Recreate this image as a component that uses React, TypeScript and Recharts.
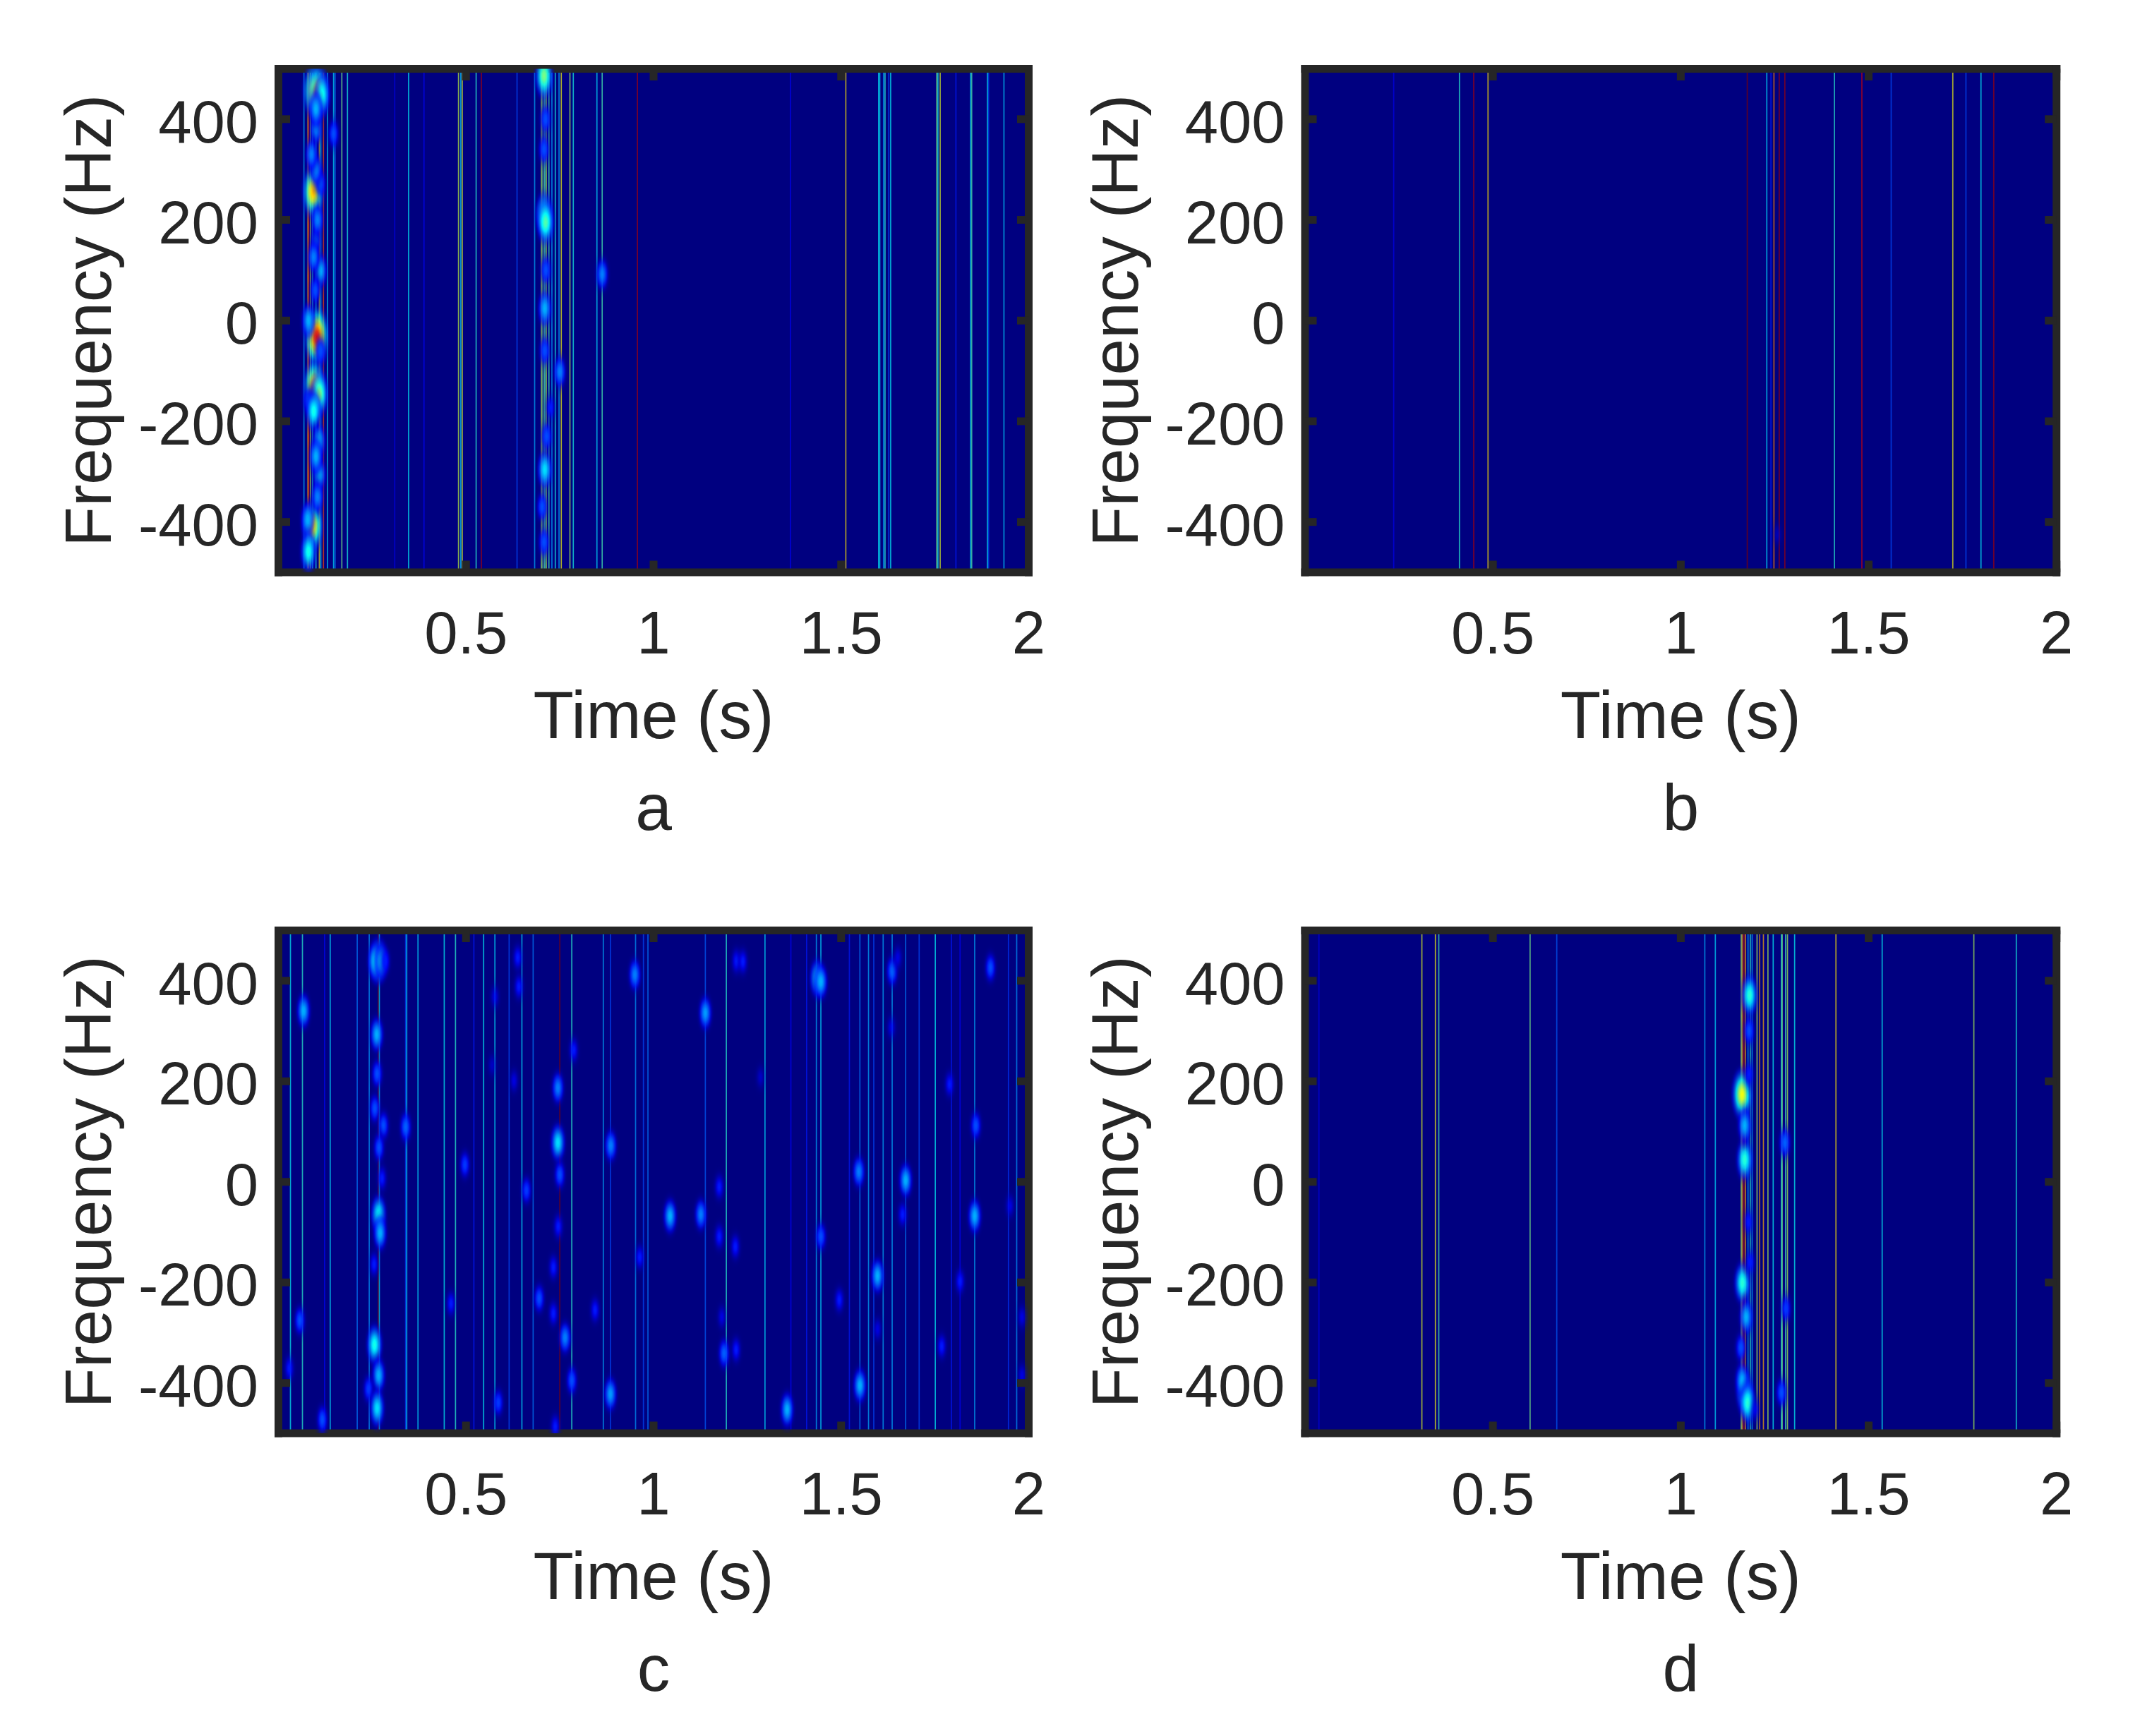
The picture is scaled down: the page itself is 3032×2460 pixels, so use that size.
import React from 'react';
import {
  ComposedChart, XAxis, YAxis, Scatter, ReferenceLine, CartesianGrid, Label,
} from 'recharts';

const timeTicks = [0.5, 1, 1.5, 2];
const freqTicks = [-400, -200, 0, 200, 400];

// [time (s), colour level 0..1]
const stripesA: [number, number][] = [
  [0.068, 0.3], [0.0785, 0.7], [0.081, 0.85], [0.0857, 0.55], [0.091, 0.42], [0.1, 0.4], [0.109, 0.65], [0.113, 0.35],
  [0.12, 0.8], [0.131, 0.35], [0.147, 0.35], [0.151, 0.25], [0.169, 0.5], [0.184, 0.4], [0.31, 0.1], [0.347, 0.38],
  [0.388, 0.13], [0.48, 0.57], [0.486, 0.33], [0.49, 0.6], [0.527, 0.42], [0.541, 0.95], [0.636, 0.2], [0.683, 0.3],
  [0.701, 0.55], [0.705, 0.5], [0.71, 0.45], [0.714, 0.55], [0.721, 0.45], [0.729, 0.3], [0.738, 0.4], [0.748, 0.3],
  [0.754, 0.62], [0.777, 0.55], [0.786, 0.4], [0.849, 0.35], [0.863, 0.45], [0.957, 0.95], [1.365, 0.12], [1.5125, 0.65],
  [1.6, 0.38], [1.603, 0.35], [1.613, 0.3], [1.617, 0.42], [1.627, 0.2], [1.632, 0.38], [1.755, 0.5], [1.758, 0.4],
  [1.764, 0.6], [1.806, 0.15], [1.845, 0.35], [1.848, 0.45], [1.89, 0.38], [1.893, 0.2], [1.934, 0.33],
];
const stripesB: [number, number][] = [
  [0.236, 0.11], [0.411, 0.42], [0.449, 0.95], [0.487, 0.65], [1.177, 1], [1.229, 0.35], [1.24, 0.15], [1.248, 0.75],
  [1.262, 0.96], [1.277, 0.96], [1.409, 0.42], [1.482, 0.92], [1.56, 0.2], [1.724, 0.62], [1.759, 0.2], [1.799, 0.38], [1.833, 0.96],
];
const stripesC: [number, number][] = [
  [0.032, 0.38], [0.064, 0.42], [0.123, 0.13], [0.138, 0.35], [0.21, 0.25], [0.242, 0.28], [0.266, 1], [0.269, 0.35],
  [0.339, 0.2], [0.342, 0.35], [0.372, 0.35], [0.442, 0.38], [0.472, 0.42], [0.521, 0.15], [0.547, 0.38], [0.577, 0.35],
  [0.615, 0.2], [0.649, 0.35], [0.679, 0.25], [0.75, 1], [0.782, 0.42], [0.866, 0.3], [0.885, 0.2], [0.952, 0.28],
  [0.973, 0.2], [0.985, 0.25], [1.138, 0.22], [1.194, 0.42], [1.297, 0.35], [1.366, 0.12], [1.408, 0.15], [1.434, 0.3],
  [1.446, 0.35], [1.522, 0.15], [1.55, 0.25], [1.573, 0.3], [1.587, 0.2], [1.612, 0.3], [1.636, 0.3], [1.672, 0.25],
  [1.708, 0.2], [1.751, 0.38], [1.794, 0.15], [1.817, 0.12], [1.856, 0.3], [1.946, 0.18], [1.968, 0.28],
];
const stripesD: [number, number][] = [
  [0.037, 0.1], [0.311, 0.6], [0.347, 0.62], [0.356, 0.45], [0.599, 0.5], [0.67, 0.22], [1.064, 0.3], [1.092, 0.35],
  [1.161, 0.55], [1.164, 0.72], [1.1685, 0.95], [1.172, 0.7], [1.179, 0.3], [1.185, 0.42], [1.19, 0.3], [1.203, 0.55],
  [1.21, 0.72], [1.22, 0.7], [1.232, 0.55], [1.246, 0.38], [1.268, 0.4], [1.27, 0.5], [1.279, 0.45], [1.284, 0.55],
  [1.303, 0.38], [1.413, 0.65], [1.536, 0.38], [1.78, 0.55], [1.893, 0.4],
];

// [time (s), frequency (Hz), colour level 0..1]
const blobsA: [number, number, number][] = [
  [0.094, 456, 0.68], [0.107, 452, 0.7], [0.116, 449, 0.4], [0.093, 256, 0.7], [0.708, 211, 0.46], [0.712, 195, 0.46],
  [0.112, 99, 0.3], [0.102, -32, 0.86], [0.08, 0, 0.3], [0.096, -133, 0.74], [0.109, -146, 0.5], [0.08, -160, 0.2],
  [0.094, -180, 0.4], [0.109, -306, 0.3], [0.091, -408, 0.65], [0.078, -395, 0.3], [0.08, -459, 0.4], [0.708, 486, 0.5],
  [0.71, 24, 0.3], [0.75, -102, 0.25], [0.71, -296, 0.35], [0.725, -173, 0.15], [0.863, 92, 0.25], [0.147, 371, 0.2],
  [0.703, -370, 0.2], [0.112, 273, 0.2], [0.1, 160, 0.2], [0.094, 126, 0.25], [0.1, 380, 0.25], [0.1, 300, 0.25],
  [0.104, 200, 0.25], [0.098, 60, 0.2], [0.112, -60, 0.2], [0.108, -240, 0.3], [0.1, -270, 0.3], [0.104, -350, 0.25],
  [0.088, 330, 0.25], [0.1, 420, 0.3], [0.712, 400, 0.2], [0.708, 340, 0.2], [0.713, 100, 0.2], [0.71, -60, 0.2],
  [0.715, -230, 0.2], [0.708, -440, 0.2],
];
const blobsB: [number, number, number][] = [[1.257, -425, 0.09]];
const blobsC: [number, number, number][] = [
  [0.266, 439, 0.5], [0.258, 439, 0.35], [0.274, 439, 0.3], [0.285, 439, 0.15], [0.067, 340, 0.3], [0.262, 293, 0.3],
  [0.263, 215, 0.2], [0.257, 146, 0.2], [0.28, 112, 0.2], [0.339, 109, 0.22], [0.268, 68, 0.2], [0.497, 34, 0.18],
  [0.276, 7, 0.15], [0.267, -65, 0.38], [0.271, -102, 0.3], [0.255, -164, 0.15], [0.46, -242, 0.15], [0.057, -276, 0.2],
  [0.256, -324, 0.4], [0.267, -385, 0.3], [0.24, -412, 0.18], [0.263, -450, 0.35], [0.117, -473, 0.2], [0.638, 446, 0.15],
  [0.641, 388, 0.15], [0.577, 368, 0.12], [0.787, 262, 0.15], [0.57, 232, 0.1], [0.628, 201, 0.12], [0.745, 187, 0.25],
  [0.745, 78, 0.35], [0.75, 14, 0.2], [0.661, -17, 0.18], [0.746, -89, 0.15], [0.733, -170, 0.15], [0.695, -232, 0.2],
  [0.733, -262, 0.15], [0.764, -310, 0.25], [0.782, -395, 0.2], [0.885, -422, 0.28], [0.886, 72, 0.25], [0.95, 412, 0.25],
  [0.963, -150, 0.15], [0.844, -255, 0.15], [0.738, -487, 0.15], [0.029, -371, 0.15], [0.586, -439, 0.18], [1.138, 336, 0.28],
  [1.044, -68, 0.3], [1.126, -65, 0.25], [1.175, -10, 0.15], [1.221, 439, 0.15], [1.238, 438, 0.15], [1.436, 405, 0.35],
  [1.446, 398, 0.3], [1.636, 419, 0.22], [1.651, 446, 0.12], [1.898, 426, 0.2], [1.789, 194, 0.15], [1.859, 112, 0.2],
  [1.547, 20, 0.25], [1.672, 3, 0.3], [1.664, -65, 0.15], [1.856, -68, 0.3], [1.446, -109, 0.2], [1.175, -109, 0.15],
  [1.218, -129, 0.15], [1.597, -187, 0.3], [1.817, -198, 0.15], [1.495, -235, 0.15], [1.182, -269, 0.12], [1.188, -341, 0.22],
  [1.22, -334, 0.15], [1.597, -293, 0.12], [1.768, -327, 0.15], [1.55, -405, 0.3], [1.356, -453, 0.3], [1.982, -269, 0.12],
  [1.982, -385, 0.12], [1.95, -48, 0.12], [1.285, 208, 0.1], [1.634, 307, 0.12],
];
const blobsD: [number, number, number][] = [
  [1.183, 371, 0.42], [1.163, 174, 0.62], [1.182, 214, 0.15], [1.277, 78, 0.22], [1.17, 44, 0.42], [1.17, 112, 0.3],
  [1.164, -201, 0.42], [1.185, -160, 0.15], [1.174, -269, 0.3], [1.16, -330, 0.2], [1.17, -419, 0.45], [1.163, -395, 0.3],
  [1.178, -440, 0.42], [1.28, -252, 0.18], [1.268, -419, 0.2], [1.199, -453, 0.12], [1.182, 300, 0.2], [1.18, -80, 0.15],
];

const INK = '#262626';
const NAVY = '#000080';
const FONT = '"Liberation Sans", Arial, sans-serif';
const FRAME = 11;
const TICK_LEN = 16.5;

const jet = (v: number) => {
  const c = (x: number) => Math.round(Math.max(0, Math.min(1, x)) * 255);
  const r = c(Math.min(4 * v - 1.5, -4 * v + 4.5));
  const g = c(Math.min(4 * v - 0.5, -4 * v + 3.5));
  const b = c(Math.min(4 * v + 0.5, -4 * v + 2.5));
  return `rgb(${r},${g},${b})`;
};

const Blob = ({ cx, cy, payload }: any) => {
  const level = payload.level;
  const id = `blob-${Math.round(level * 100)}`;
  const stops = [0, 0.15, 0.3, 0.45, 0.6, 0.75, 0.9, 1];
  return (
    <g>
      <defs>
        <radialGradient id={id}>
          {stops.map((r) => {
            const v = level * Math.exp(-2.5 * r * r);
            // fade out slowly so the edge melts into the navy background
            const alpha = Math.min(1, v / 0.15) * (1 - r * r);
            return <stop key={r} offset={r} stopColor={jet(v)} stopOpacity={alpha} />;
          })}
        </radialGradient>
      </defs>
      <ellipse cx={cx} cy={cy} rx={11 + level * 12} ry={30 + level * 26} fill={`url(#${id})`} />
    </g>
  );
};

const textStyle = { fontFamily: FONT, fill: INK };

const BottomTick = ({ x, y, payload, plotHeight }: any) => (
  <g>
    <line x1={x} x2={x} y1={y} y2={y - TICK_LEN} stroke={INK} strokeWidth={FRAME} />
    <line x1={x} x2={x} y1={y - plotHeight} y2={y - plotHeight + TICK_LEN} stroke={INK} strokeWidth={FRAME} />
    <text x={x} y={y + 115} textAnchor="middle" fontSize={85} {...textStyle}>{payload.value}</text>
  </g>
);
const LeftTick = ({ x, y, payload }: any) => (
  <g>
    <line x1={x} x2={x + TICK_LEN} y1={y} y2={y} stroke={INK} strokeWidth={FRAME} />
    <text x={x - 28.5} y={y + 33} textAnchor="end" fontSize={85} {...textStyle}>{payload.value}</text>
  </g>
);
const RightTick = ({ x, y }: any) => (
  <line x1={x} x2={x - TICK_LEN} y1={y} y2={y} stroke={INK} strokeWidth={FRAME} />
);

const axisLine = { stroke: INK, strokeWidth: FRAME, strokeLinecap: 'square' as const };

interface PanelProps {
  caption: string;
  stripes: [number, number][];
  blobs: [number, number, number][];
  cellLeft: number;
  cellTop: number;
  plotLeft: number;
  plotRight: number;
  plotTop: number;
  plotBottom: number;
}

const CELL_W = 1516;
const CELL_H = 1230;

function Panel({ caption, stripes, blobs, cellLeft, cellTop, plotLeft, plotRight, plotTop, plotBottom }: PanelProps) {
  const blobData = blobs.map(([t, f, level]) => ({ t, f, level }));
  return (
    <div style={{ position: 'absolute', left: cellLeft, top: cellTop, width: CELL_W, height: CELL_H }}>
      <ComposedChart width={CELL_W} height={CELL_H} margin={{ top: 0, right: 0, bottom: 0, left: 0 }}>
        <CartesianGrid horizontal={false} vertical={false} fill={NAVY} stroke="none" />
        <XAxis
          type="number" dataKey="t" domain={[0, 2]} ticks={timeTicks} interval={0} allowDataOverflow
          height={cellTop + CELL_H - plotBottom} tickSize={0} tickMargin={0} axisLine={axisLine} tickLine={false}
          tick={<BottomTick plotHeight={plotBottom - plotTop} />}
        >
          <Label
            content={({ viewBox }: any) => (
              <g>
                <text x={viewBox.x + viewBox.width / 2} y={viewBox.y + 235} textAnchor="middle" fontSize={94} {...textStyle}>Time (s)</text>
                <text x={viewBox.x + viewBox.width / 2} y={viewBox.y + 365} textAnchor="middle" fontSize={93} {...textStyle}>{caption}</text>
              </g>
            )}
          />
        </XAxis>
        <XAxis
          xAxisId="top" orientation="top" type="number" domain={[0, 2]} allowDataOverflow
          height={plotTop - cellTop} axisLine={axisLine} tickLine={false} tick={false}
        />
        <YAxis
          type="number" dataKey="f" domain={[-500, 500]} ticks={freqTicks} interval={0} allowDataOverflow
          width={plotLeft - cellLeft} tickSize={0} tickMargin={0} axisLine={axisLine} tickLine={false} tick={<LeftTick />}
        >
          <Label
            content={({ viewBox }: any) => {
              const lx = viewBox.x + viewBox.width - 237.5;
              const ly = viewBox.y + viewBox.height / 2;
              return (
                <text x={lx} y={ly} transform={`rotate(-90 ${lx} ${ly})`} textAnchor="middle" fontSize={93} {...textStyle}>
                  Frequency (Hz)
                </text>
              );
            }}
          />
        </YAxis>
        <YAxis
          yAxisId="right" orientation="right" type="number" domain={[-500, 500]} ticks={freqTicks} interval={0} allowDataOverflow
          width={cellLeft + CELL_W - plotRight} tickSize={0} tickMargin={0} axisLine={axisLine} tickLine={false} tick={<RightTick />}
        />
        {stripes.map(([t, level]) => (
          <ReferenceLine key={t} x={t} stroke={jet(level)} strokeWidth={1.7} strokeOpacity={0.68} />
        ))}
        <Scatter data={blobData} dataKey="f" shape={<Blob />} isAnimationActive={false} />
      </ComposedChart>
    </div>
  );
}

export default function App() {
  return (
    <div style={{ position: 'absolute', left: 0, top: 0, width: 3032, height: 2460, background: '#fff' }}>
      <Panel caption="a" stripes={stripesA} blobs={blobsA} cellLeft={0} cellTop={0} plotLeft={394.5} plotRight={1457.5} plotTop={97.5} plotBottom={811} />
      <Panel caption="b" stripes={stripesB} blobs={blobsB} cellLeft={1516} cellTop={0} plotLeft={1849} plotRight={2913.7} plotTop={97.5} plotBottom={811} />
      <Panel caption="c" stripes={stripesC} blobs={blobsC} cellLeft={0} cellTop={1230} plotLeft={394.5} plotRight={1457.5} plotTop={1318.5} plotBottom={2031} />
      <Panel caption="d" stripes={stripesD} blobs={blobsD} cellLeft={1516} cellTop={1230} plotLeft={1849} plotRight={2913.7} plotTop={1318.5} plotBottom={2031} />
    </div>
  );
}
